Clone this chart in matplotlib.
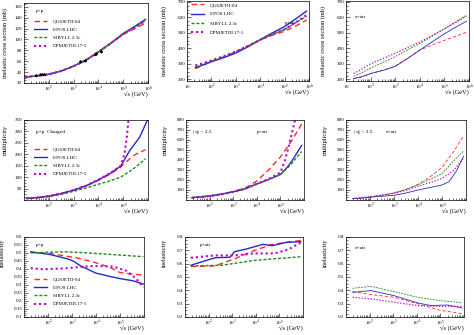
import numpy as np
import matplotlib
matplotlib.use("Agg")
import matplotlib.pyplot as plt
from matplotlib.ticker import LogLocator, NullFormatter, AutoMinorLocator

plt.rcParams['font.family'] = ['Liberation Serif', 'DejaVu Serif']
plt.rcParams['mathtext.fontset'] = 'stix'

MODELS = ["QGSJETII-04", "EPOS LHC", "SIBYLL 2.3c", "DPMJETIII.17-1"]

# ---- p+p inelastic cross section (mb), x given as log10(sqrt(s)/GeV)
pp_xs_lg = [1.05, 1.5, 2.0, 2.5, 3.0, 3.5, 4.0, 4.5, 5.0, 5.5, 5.9]
pp_xs_qgs = [31, 33, 36, 42, 51, 62, 77, 93, 109, 121, 130]
pp_xs_epos = [31, 33, 36, 42, 51, 62, 77, 93, 111, 125, 137]
pp_xs_sib = [31, 33, 36, 42, 51, 62, 77, 93, 110, 124, 135]
pp_xs_dpm = [31, 33, 36, 42, 51, 62, 77, 93, 110, 123, 134]
pp_xs_data_e = [30.4, 44.7, 52.8, 62.3, 1800, 2760, 7000, 8000, 13000]
pp_xs_data = [35.5, 36.0, 36.5, 37.0, 60.0, 62.0, 73.0, 74.7, 78.0]
pp_xs_data_err = [0.5, 0.5, 0.5, 0.5, 2.5, 2.5, 2.0, 2.0, 2.5]

# ---- p+air inelastic cross section (mb)
pair_xs_lg = [1.34, 1.6, 2.0, 2.5, 3.0, 3.5, 4.0, 4.5, 5.0, 5.5, 5.9]
pair_xs_qgs = [270, 288, 316, 345, 377, 414, 455, 485, 510, 548, 582]
pair_xs_epos = [275, 290, 314, 340, 370, 410, 456, 500, 540, 595, 640]
pair_xs_sib = [280, 295, 318, 346, 377, 414, 455, 490, 522, 570, 605]
pair_xs_dpm = [290, 302, 322, 350, 380, 416, 455, 490, 522, 572, 615]

# ---- pi+air inelastic cross section (mb)
piair_xs_lg = [1.31, 1.6, 2.0, 2.5, 3.0, 3.5, 4.0, 4.5, 5.0, 5.5, 5.9]
piair_xs_qgs = [206, 215, 238, 260, 286, 335, 389, 422, 452, 480, 505]
piair_xs_epos = [206, 215, 238, 258, 284, 335, 389, 442, 494, 540, 575]
piair_xs_sib = [221, 240, 273, 310, 347, 390, 431, 478, 526, 575, 615]
piair_xs_dpm = [238, 262, 301, 335, 368, 405, 441, 483, 526, 570, 608]

# ---- p+p charged multiplicity
pp_mu_lg = [1.1, 1.5, 2.0, 2.5, 3.0, 3.5, 4.0, 4.5, 4.9, 5.26, 5.5, 5.9]
pp_mu_qgs = [7, 10, 17, 28, 43, 62, 86, 115, 144, 180, 200, 220]
pp_mu_sib = [6, 9, 15, 25, 38, 52, 69, 85, 100, 125, 144, 180]
pp_mu_epos_lg = [1.1, 1.5, 2.0, 2.5, 3.0, 3.5, 4.0, 4.5, 4.9, 5.26, 5.66, 5.98]
pp_mu_epos = [7, 10, 17, 28, 43, 62, 88, 118, 148, 216, 274, 350]
pp_mu_dpm_lg = [1.1, 1.5, 2.0, 2.5, 3.0, 3.5, 4.0, 4.5, 4.9, 5.05, 5.15, 5.22]
pp_mu_dpm = [7, 10, 17, 28, 43, 62, 89, 119, 150, 200, 280, 360]

# ---- p+air multiplicity, |eta| < 2.5
pair_mu_lg = [1.25, 1.6, 2.0, 2.5, 3.0, 3.5, 4.0, 4.5, 5.0, 5.3, 5.5, 5.9]
pair_mu_qgs = [23, 30, 40, 58, 84, 118, 190, 300, 430, 530, 600, 760]
pair_mu_epos = [23, 30, 40, 58, 82, 112, 160, 205, 255, 330, 395, 545]
pair_mu_sib = [23, 30, 40, 58, 82, 112, 160, 205, 255, 320, 370, 485]
pair_mu_dpm_lg = [1.25, 1.6, 2.0, 2.5, 3.0, 3.5, 4.0, 4.5, 5.0, 5.2, 5.4, 5.62]
pair_mu_dpm = [23, 30, 40, 58, 82, 112, 162, 210, 275, 400, 580, 800]

# ---- pi+air multiplicity, |eta| < 2.5
piair_mu_lg = [1.28, 1.6, 2.0, 2.5, 3.0, 3.5, 4.0, 4.5, 5.0, 5.5, 5.9]
piair_mu_qgs = [15, 20, 31, 48, 70, 105, 155, 230, 326, 490, 640]
piair_mu_sib = [15, 20, 31, 48, 70, 105, 155, 205, 263, 395, 490]
piair_mu_dpm = [15, 20, 31, 48, 68, 98, 138, 175, 214, 300, 420]
piair_mu_epos_lg = [1.28, 1.6, 2.0, 2.5, 3.0, 3.5, 4.0, 4.5, 5.0, 5.3, 5.6, 5.9]
piair_mu_epos = [13, 18, 28, 38, 47, 70, 100, 125, 150, 185, 290, 440]

# ---- p+p inelasticity
pp_k_qgs_lg = [1.28, 2.08, 3.19, 3.89, 4.58, 5.0, 5.56, 5.97]
pp_k_qgs = [0.505, 0.497, 0.47, 0.444, 0.41, 0.378, 0.367, 0.363]
pp_k_epos_lg = [1.28, 2.1, 2.8, 3.05, 3.35, 4.0, 4.6, 5.0, 5.55, 5.97]
pp_k_epos = [0.507, 0.49, 0.464, 0.45, 0.42, 0.374, 0.353, 0.34, 0.326, 0.306]
pp_k_sib_lg = [1.28, 2.0, 2.8, 3.5, 4.2, 5.0, 5.97]
pp_k_sib = [0.50, 0.505, 0.507, 0.502, 0.495, 0.487, 0.477]
pp_k_dpm_lg = [1.28, 1.81, 2.78, 3.89, 4.72, 5.28, 5.69, 5.97]
pp_k_dpm = [0.405, 0.398, 0.405, 0.419, 0.415, 0.388, 0.337, 0.285]

# ---- p+air inelasticity
pair_k_lg = [1.25, 2.27, 3.11, 3.96, 4.66, 5.93]
pair_k_qgs = [0.578, 0.583, 0.637, 0.70, 0.743, 0.775]
pair_k_epos_lg = [1.25, 2.0, 2.3, 2.9, 3.1, 3.6, 4.3, 4.7, 5.3, 5.9]
pair_k_epos = [0.588, 0.63, 0.645, 0.648, 0.69, 0.71, 0.745, 0.735, 0.76, 0.765]
pair_k_sib_lg = [1.25, 2.55, 3.96, 5.93]
pair_k_sib = [0.583, 0.588, 0.625, 0.652]
pair_k_dpm_lg = [1.25, 2.27, 3.11, 3.96, 4.8, 5.37, 5.93]
pair_k_dpm = [0.644, 0.662, 0.662, 0.677, 0.677, 0.706, 0.76]

# ---- pi+air inelasticity
piair_k_lg = [1.28, 2.06, 3.04, 4.03, 5.0, 5.93]
piair_k_qgs = [0.39, 0.368, 0.348, 0.30, 0.25, 0.225]
piair_k_sib = [0.415, 0.43, 0.39, 0.348, 0.323, 0.306]
piair_k_dpm = [0.348, 0.336, 0.311, 0.286, 0.28, 0.28]
piair_k_epos_lg = [1.28, 2.06, 3.04, 4.03, 4.59, 5.3, 5.93]
piair_k_epos = [0.385, 0.398, 0.36, 0.306, 0.286, 0.29, 0.267]

STYLE = {
    "QGSJETII-04": dict(color="#ff2a2a", ls=(0, (4, 2.5)), lw=1.0),
    "EPOS LHC": dict(color="#2828c8", ls="-", lw=1.0),
    "SIBYLL 2.3c": dict(color="#1e8c1e", ls=(0, (2.2, 1.3)), lw=1.0),
    "DPMJETIII.17-1": dict(color="#c000cc", ls=(0, (1, 1.4)), lw=1.5),
}

W, H = 474, 335
fig = plt.figure(figsize=(W / 100, H / 100), dpi=100)


def make_axes(l, r, t, b):
    return fig.add_axes([l / W, 1 - b / H, (r - l) / W, (b - t) / H])


def style_axes(ax, ylim, yticks, xlabels, ylabel):
    ax.set_xscale("log")
    ax.set_xlim(10, 1e6)
    ax.set_ylim(*ylim)
    ax.set_yticks(yticks)
    ax.set_yticklabels([f"{v:g}" for v in yticks])
    ax.yaxis.set_minor_locator(AutoMinorLocator(4))
    ax.set_xticks([10 ** k for k in xlabels])
    ax.set_xticklabels([r"$10$" if k == 1 else rf"$10^{{{k}}}$" for k in xlabels])
    ax.xaxis.set_minor_locator(LogLocator(base=10, subs=np.arange(2, 10)))
    ax.xaxis.set_minor_formatter(NullFormatter())
    ax.tick_params(which="both", direction="in", labelsize=3.6, width=0.4, pad=1.2)
    ax.tick_params(which="major", length=3)
    ax.tick_params(which="minor", length=1.5)
    for s in ax.spines.values():
        s.set_linewidth(0.5)
    ax.set_ylabel(ylabel, fontsize=4.6, labelpad=1)
    ax.text(1.0, -0.115, "√s (GeV)", transform=ax.transAxes,
            ha="right", va="top", fontsize=4.6)


def draw(ax, curves, lw_scale=1.0):
    for name, (lg, y) in zip(MODELS, curves):
        st = STYLE[name]
        ax.plot(np.power(10.0, lg), y, color=st["color"], ls=st["ls"],
                lw=st["lw"] * lw_scale, label=name)


def add_legend(ax, x, y, spacing=0.75):
    ax.legend(loc="upper left", bbox_to_anchor=(x, y), frameon=False,
              fontsize=3.6, handlelength=2.6, handletextpad=1.2,
              labelspacing=spacing, borderpad=0, borderaxespad=0)


xs_label = "inelastic cross section (mb)"
xs_ticks = [200, 300, 400, 500, 600, 700]
mu_ticks = [100, 200, 300, 400, 500, 600, 700, 800]
k_ticks = [0.2, 0.3, 0.4, 0.5, 0.6, 0.7, 0.8]

# row 1: cross sections
ax = make_axes(24, 148, 3, 83)
draw(ax, [(pp_xs_lg, pp_xs_qgs), (pp_xs_lg, pp_xs_epos),
          (pp_xs_lg, pp_xs_sib), (pp_xs_lg, pp_xs_dpm)])
ax.errorbar(pp_xs_data_e, pp_xs_data, yerr=pp_xs_data_err, fmt="^", color="black",
            ms=1.3, elinewidth=0.5, capsize=0, zorder=5)
style_axes(ax, (20, 167), [20, 40, 60, 80, 100, 120, 140, 160], [2, 3, 4, 5, 6], xs_label)
ax.yaxis.set_label_coords(-0.13, 0.5)
ax.text(0.1, 0.9, "p+p", transform=ax.transAxes, fontsize=3.8, va="center")
add_legend(ax, 0.08, 0.8)

ax = make_axes(187, 309, 1, 81)
draw(ax, [(pair_xs_lg, pair_xs_qgs), (pair_xs_lg, pair_xs_epos),
          (pair_xs_lg, pair_xs_sib), (pair_xs_lg, pair_xs_dpm)])
style_axes(ax, (190, 705), xs_ticks, [1, 2, 3, 4, 5, 6], xs_label)
ax.yaxis.set_label_coords(-0.16, 0.5)
ax.text(0.8, 0.72, "p+air", transform=ax.transAxes, fontsize=3.8, va="center")
add_legend(ax, 0.03, 0.98, spacing=0.95)

ax = make_axes(346, 469, 1, 81)
draw(ax, [(piair_xs_lg, piair_xs_qgs), (piair_xs_lg, piair_xs_epos),
          (piair_xs_lg, piair_xs_sib), (piair_xs_lg, piair_xs_dpm)], lw_scale=0.6)
style_axes(ax, (190, 705), xs_ticks, [1, 2, 3, 4, 5, 6], xs_label)
ax.yaxis.set_label_coords(-0.16, 0.5)
ax.text(0.07, 0.8, "π+air", transform=ax.transAxes, fontsize=3.8, va="center")

# row 2: multiplicities
ax = make_axes(24, 148, 120, 200)
draw(ax, [(pp_mu_lg, pp_mu_qgs), (pp_mu_epos_lg, pp_mu_epos),
          (pp_mu_lg, pp_mu_sib), (pp_mu_dpm_lg, pp_mu_dpm)])
style_axes(ax, (0, 350), [50, 100, 150, 200, 250, 300, 350], [2, 3, 4, 5], "multiplicity")
ax.yaxis.set_label_coords(-0.13, 0.75)
ax.text(0.1, 0.85, "p+p  Charged", transform=ax.transAxes, fontsize=3.8, va="center")
add_legend(ax, 0.08, 0.66)

ax = make_axes(186, 304, 120, 200)
draw(ax, [(pair_mu_lg, pair_mu_qgs), (pair_mu_lg, pair_mu_epos),
          (pair_mu_lg, pair_mu_sib), (pair_mu_dpm_lg, pair_mu_dpm)])
style_axes(ax, (0, 800), mu_ticks, [2, 3, 4, 5], "multiplicity")
ax.yaxis.set_label_coords(-0.15, 0.75)
ax.text(0.06, 0.85, "| η| < 2.5", transform=ax.transAxes, fontsize=3.8, va="center")
ax.text(0.6, 0.85, "p+air", transform=ax.transAxes, fontsize=3.8, va="center")

ax = make_axes(346, 466, 120, 200)
draw(ax, [(piair_mu_lg, piair_mu_qgs), (piair_mu_epos_lg, piair_mu_epos),
          (piair_mu_lg, piair_mu_sib), (piair_mu_lg, piair_mu_dpm)], lw_scale=0.6)
style_axes(ax, (0, 800), mu_ticks, [2, 3, 4, 5], "multiplicity")
ax.yaxis.set_label_coords(-0.15, 0.75)
ax.text(0.07, 0.85, "| η| < 2.5", transform=ax.transAxes, fontsize=3.8, va="center")
ax.text(0.33, 0.85, "π+air", transform=ax.transAxes, fontsize=3.8, va="center")

# row 3: inelasticities
ax = make_axes(24, 144, 237, 317)
draw(ax, [(pp_k_qgs_lg, pp_k_qgs), (pp_k_epos_lg, pp_k_epos),
          (pp_k_sib_lg, pp_k_sib), (pp_k_dpm_lg, pp_k_dpm)])
style_axes(ax, (0.1, 0.6), [0.1, 0.15, 0.2, 0.25, 0.3, 0.35, 0.4, 0.45, 0.5, 0.55, 0.6],
           [2, 3, 4, 5], "inelasticity")
ax.yaxis.set_label_coords(-0.16, 0.8)
ax.text(0.1, 0.9, "p+p", transform=ax.transAxes, fontsize=3.8, va="center")
add_legend(ax, 0.08, 0.5)

ax = make_axes(185, 303, 237, 317)
draw(ax, [(pair_k_lg, pair_k_qgs), (pair_k_epos_lg, pair_k_epos),
          (pair_k_sib_lg, pair_k_sib), (pair_k_dpm_lg, pair_k_dpm)])
style_axes(ax, (0.2, 0.8), k_ticks, [2, 3, 4, 5], "inelasticity")
ax.yaxis.set_label_coords(-0.15, 0.8)
ax.text(0.13, 0.9, "p+air", transform=ax.transAxes, fontsize=3.8, va="center")

ax = make_axes(346, 464, 237, 317)
draw(ax, [(piair_k_lg, piair_k_qgs), (piair_k_epos_lg, piair_k_epos),
          (piair_k_lg, piair_k_sib), (piair_k_lg, piair_k_dpm)], lw_scale=0.6)
style_axes(ax, (0.2, 0.8), k_ticks, [2, 3, 4, 5], "inelasticity")
ax.yaxis.set_label_coords(-0.15, 0.8)
ax.text(0.08, 0.86, "π+air", transform=ax.transAxes, fontsize=3.8, va="center")

fig.savefig("out.png", dpi=100)
